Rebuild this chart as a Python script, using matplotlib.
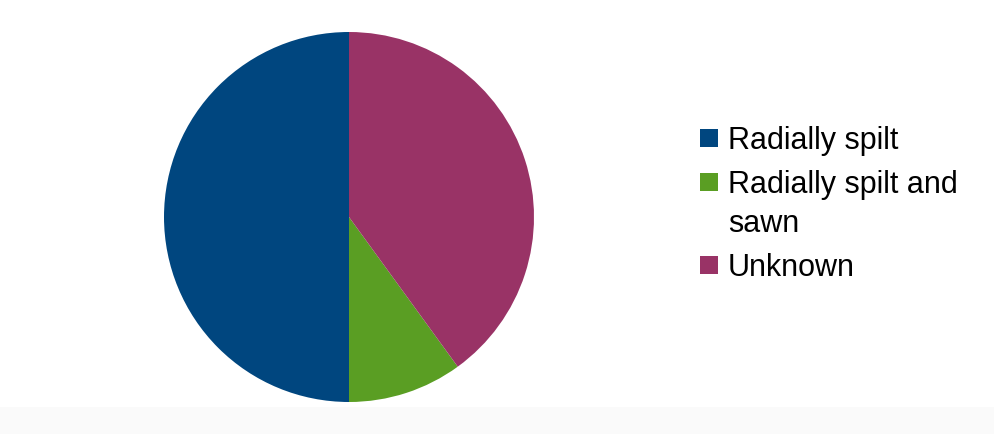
import matplotlib.pyplot as plt
from matplotlib.patches import Rectangle

labels = ["Radially spilt", "Radially spilt and\nsawn", "Unknown"]
shares = [50, 10, 40]
colors = ["#00467f", "#5a9e23", "#993366"]

plt.rcParams["font.family"] = ["Liberation Sans", "DejaVu Sans"]

W, H = 995, 434
fig = plt.figure(figsize=(W / 100, H / 100), dpi=100)

# faint grey band along the bottom
fig.patches.append(Rectangle((0, 0), 1, 27 / H, transform=fig.transFigure,
                             facecolor="#fafafa", edgecolor="none", zorder=0))

cx, cy, r = 349, 217, 185
ax = fig.add_axes([(cx - r) / W, 1 - (cy + r) / H, 2 * r / W, 2 * r / H])
ax.pie(shares, colors=colors, startangle=90, counterclock=True,
       wedgeprops=dict(linewidth=0))
ax.set_xlim(-1, 1)
ax.set_ylim(-1, 1)
ax.axis("off")

# legend, drawn by hand so the swatch sits on the first text line
box_x, text_x, sq = 700, 728, 18
y = 149
for lab, col in zip(labels, colors):
    fig.patches.append(Rectangle((box_x / W, 1 - (y - 2) / H), sq / W, sq / H,
                                 transform=fig.transFigure, facecolor=col,
                                 edgecolor="none"))
    for k, line in enumerate(lab.split("\n")):
        fig.text(text_x / W, 1 - y / H, line, fontsize=22, color="black",
                 va="baseline", ha="left")
        y += 39 if k == 0 and "\n" in lab else 0
    y += 44

fig.savefig("out.png", dpi=100)
